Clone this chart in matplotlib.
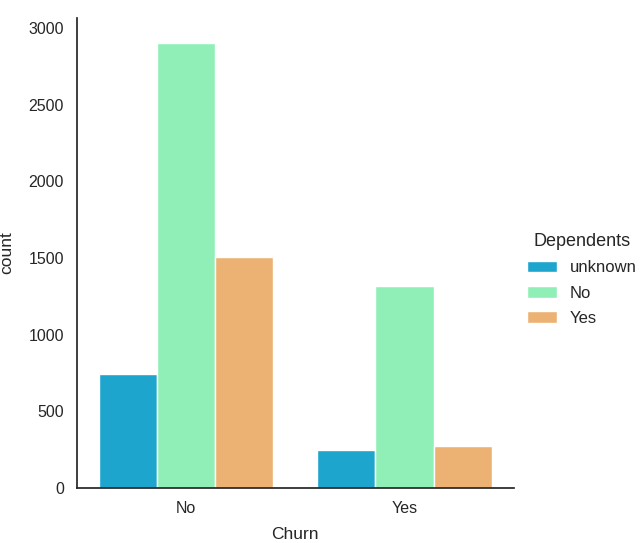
import numpy as np
import pandas as pd
import matplotlib
matplotlib.use('Agg')
import matplotlib.pyplot as plt
import seaborn as sns

# counts
churn = ['No', 'Yes']
dependents = ['unknown', 'No', 'Yes']
count_churn_no = [745, 2900, 1505]
count_churn_yes = [250, 1315, 275]

df = pd.DataFrame({
    'Churn': ['No'] * 3 + ['Yes'] * 3,
    'Dependents': dependents * 2,
    'count': count_churn_no + count_churn_yes,
})

sns.set_theme(style='white')
plt.rcParams['font.family'] = ['Liberation Sans', 'DejaVu Sans']

fig = plt.figure(figsize=(6.42, 5.43), dpi=100)
ax = fig.add_axes([0.12, 0.101, 0.68, 0.866])

sns.barplot(data=df, x='Churn', y='count', hue='Dependents', order=churn,
            hue_order=dependents, palette='rainbow', errorbar=None, ax=ax)
sns.despine(ax=ax)

ax.set_xlabel('Churn', fontsize=12.5, labelpad=8)
ax.set_ylabel('count', fontsize=12.5, labelpad=10)
ax.tick_params(labelsize=11.5)
ax.set_xlim(-0.5, 1.5)
ax.set_ylim(0, 3066)

handles, labels = ax.get_legend_handles_labels()
ax.get_legend().remove()
fig.legend(handles, labels, title='Dependents', loc='center left',
           bbox_to_anchor=(0.797, 0.485), frameon=False, fontsize=12,
           title_fontsize=13, handlelength=1.8, handletextpad=0.8,
           labelspacing=0.62)

fig.savefig('out.png', dpi=100)
